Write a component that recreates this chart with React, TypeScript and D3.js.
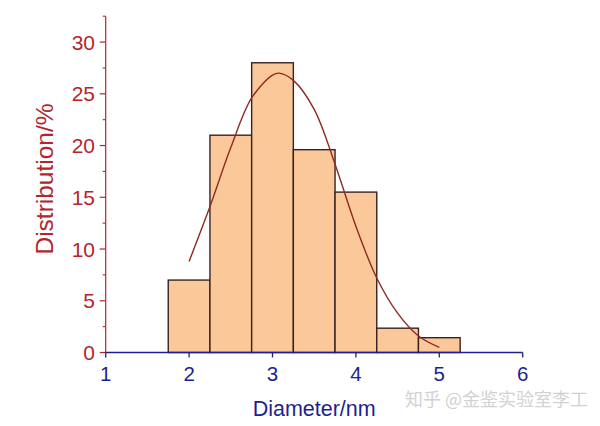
import React from "react";
import * as d3 from "d3";

const binStarts = [1.75, 2.25, 2.75, 3.25, 3.75, 4.25, 4.75];
const binWidth = 0.5;
const binValues = [7.0, 21.0, 28.0, 19.6, 15.5, 2.35, 1.43];

const fitX = [2.0, 2.25, 2.5, 2.75, 3.0, 3.08, 3.25, 3.5, 3.75, 4.0, 4.25, 4.5, 4.75, 5.0];
const fitY = [8.8, 14.1, 19.8, 24.6, 26.8, 27.0, 26.3, 23.5, 18.2, 12.2, 7.2, 3.8, 1.6, 0.5];

const xTicks = [1, 2, 3, 4, 5, 6];
const yTicks = [0, 5, 10, 15, 20, 25, 30];
const yMinorTicks = [2.5, 7.5, 12.5, 17.5, 22.5, 27.5, 32.5];

const xTitle = "Diameter/nm";
const yTitle = "Distribution/%";
const watermark = "知乎 @金鉴实验室李工";

const RED = "#b3262c";
const NAVY = "#1f1f8f";

export default function App() {
  const x = d3.scaleLinear().domain([1, 6]).range([105.7, 522.7]);
  const y = d3.scaleLinear().domain([0, 32.5]).range([352.5, 16.2]);
  const line = d3
    .line<number>()
    .x((_, i) => x(fitX[i]))
    .y((d) => y(d))
    .curve(d3.curveCatmullRom.alpha(0.5));
  const font = "'Liberation Sans', Arial, sans-serif";

  return (
    <svg
      width={600}
      height={426}
      viewBox="0 0 600 426"
      style={{ position: "absolute", left: 0, top: 0, background: "#fff" }}
      fontFamily={font}
    >
      <rect width={600} height={426} fill="#fff" />
      {/* bars */}
      {binValues.map((v, i) => (
        <rect
          key={i}
          x={x(binStarts[i])}
          y={y(v)}
          width={x(binStarts[i] + binWidth) - x(binStarts[i])}
          height={y(0) - y(v)}
          fill="#fbc899"
          stroke="#3a2222"
          strokeWidth={1.4}
        />
      ))}
      {/* fit curve */}
      <path d={line(fitY) || ""} fill="none" stroke="#8e2a24" strokeWidth={1.4} />

      {/* y axis */}
      <line x1={x(1)} x2={x(1)} y1={y(0)} y2={y(32.5)} stroke={RED} strokeWidth={1.2} />
      {yTicks.map((t) => (
        <g key={t}>
          <line x1={x(1) - 6} x2={x(1)} y1={y(t)} y2={y(t)} stroke={RED} strokeWidth={1.2} />
          <text
            x={95}
            y={y(t)}
            dy="0.36em"
            textAnchor="end"
            fontSize={21}
            fill={RED}
          >
            {t}
          </text>
        </g>
      ))}
      {yMinorTicks.map((t) => (
        <line key={t} x1={x(1) - 3} x2={x(1)} y1={y(t)} y2={y(t)} stroke={RED} strokeWidth={1.1} />
      ))}
      <text
        transform={`translate(53,179) rotate(-90)`}
        textAnchor="middle"
        fontSize={24.5}
        fill={RED}
      >
        {yTitle}
      </text>

      {/* x axis */}
      <line x1={x(1)} x2={x(6)} y1={y(0)} y2={y(0)} stroke={NAVY} strokeWidth={1.4} />
      {xTicks.map((t) => (
        <g key={t}>
          <line x1={x(t)} x2={x(t)} y1={y(0)} y2={y(0) + 5} stroke={NAVY} strokeWidth={1.3} />
          <text x={x(t)} y={381} textAnchor="middle" fontSize={20.5} fill={NAVY}>
            {t}
          </text>
        </g>
      ))}
      <text x={(x(1) + x(6)) / 2} y={416} textAnchor="middle" fontSize={21.5} fill={NAVY}>
        {xTitle}
      </text>

      {/* watermark */}
      <text
        x={405}
        y={406}
        fontSize={18}
        fill="#d2d2d2"
        fontFamily="'Noto Sans CJK SC', sans-serif"
      >
        {watermark}
      </text>
    </svg>
  );
}
